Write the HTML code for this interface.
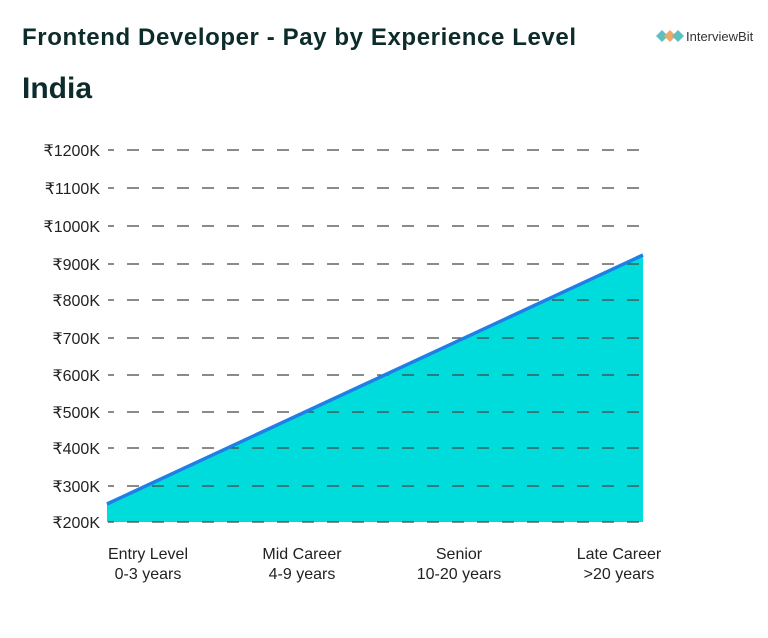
<!DOCTYPE html>
<html><head><meta charset="utf-8"><style>
body{margin:0;background:#fff;width:768px;height:633px;overflow:hidden;font-family:"Liberation Sans",sans-serif;}
</style></head><body>
<svg width="768" height="633" xmlns="http://www.w3.org/2000/svg">
<text x="22" y="45" font-size="24" font-weight="bold" letter-spacing="0.6" fill="#0d2b2b" font-family="Liberation Sans,sans-serif">Frontend Developer - Pay by Experience Level</text>
<text x="22" y="98" font-size="30" font-weight="bold" fill="#0d2b2b" font-family="Liberation Sans,sans-serif">India</text>
<g>
<polygon points="656,36 662,30 668,36 662,42" fill="#5bc0be"/>
<polygon points="664,36 670,30 676,36 670,42" fill="#f0a868"/>
<polygon points="672,36 678,30 684,36 678,42" fill="#5bc0be"/>
<text x="686" y="41" font-size="13" fill="#333" font-family="Liberation Sans,sans-serif">InterviewBit</text>
</g>
<polygon points="107,504 643,255 643,522 107,522" fill="#00dcdc"/>
<g stroke="#444" stroke-width="1.2" stroke-dasharray="12,13" stroke-dashoffset="6">
<line x1="108" y1="150" x2="643" y2="150"/>
<line x1="108" y1="188" x2="643" y2="188"/>
<line x1="108" y1="226" x2="643" y2="226"/>
<line x1="108" y1="264" x2="643" y2="264"/>
<line x1="108" y1="300" x2="643" y2="300"/>
<line x1="108" y1="338" x2="643" y2="338"/>
<line x1="108" y1="375" x2="643" y2="375"/>
<line x1="108" y1="412" x2="643" y2="412"/>
<line x1="108" y1="448" x2="643" y2="448"/>
<line x1="108" y1="486" x2="643" y2="486"/>
<line x1="108" y1="522" x2="643" y2="522"/>
</g>
<line x1="107" y1="504" x2="643" y2="255" stroke="#1e80e6" stroke-width="3.5"/>
<g font-size="16" fill="#222" text-anchor="end" font-family="Liberation Sans,sans-serif">
<text x="100" y="156">₹1200K</text>
<text x="100" y="194">₹1100K</text>
<text x="100" y="232">₹1000K</text>
<text x="100" y="270">₹900K</text>
<text x="100" y="306">₹800K</text>
<text x="100" y="344">₹700K</text>
<text x="100" y="381">₹600K</text>
<text x="100" y="418">₹500K</text>
<text x="100" y="454">₹400K</text>
<text x="100" y="492">₹300K</text>
<text x="100" y="528">₹200K</text>
</g>
<g font-size="16" fill="#222" text-anchor="middle" font-family="Liberation Sans,sans-serif">
<text x="148" y="559">Entry Level</text><text x="148" y="579">0-3 years</text>
<text x="302" y="559">Mid Career</text><text x="302" y="579">4-9 years</text>
<text x="459" y="559">Senior</text><text x="459" y="579">10-20 years</text>
<text x="619" y="559">Late Career</text><text x="619" y="579">&gt;20 years</text>
</g>
</svg>
</body></html>
